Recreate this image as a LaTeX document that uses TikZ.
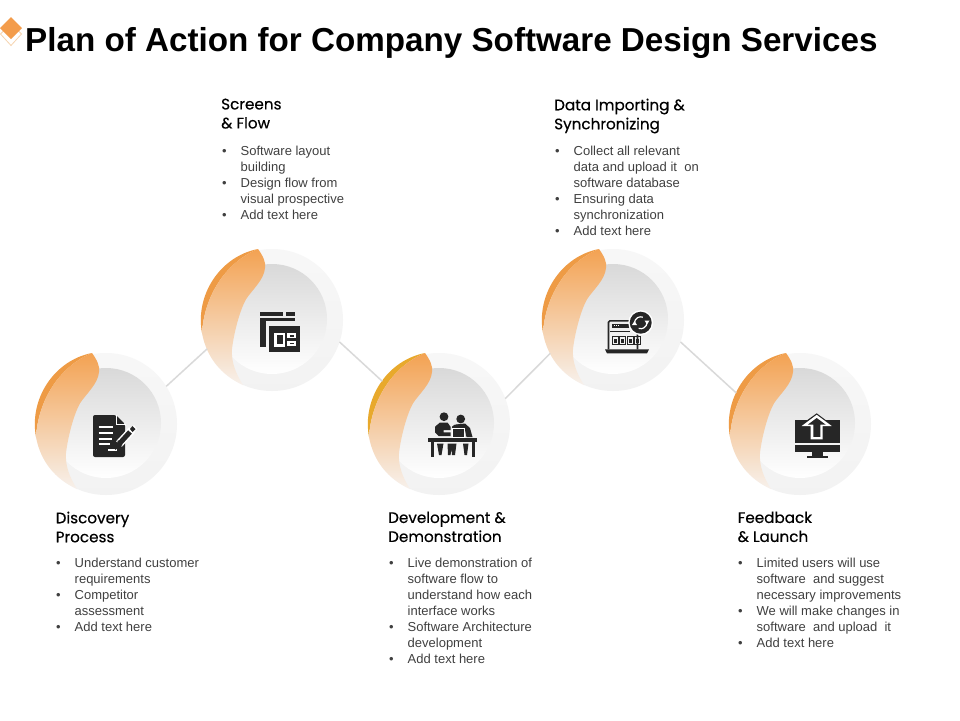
\documentclass[tikz,border=0pt]{standalone}
\usepackage{fontspec}
\setmainfont{Liberation Sans}
\newfontfamily\headfont[FakeBold=0.4]{Poppins}
\definecolor{iconDark}{HTML}{262626}
\definecolor{bodyGrey}{HTML}{404040}
\definecolor{linkGrey}{HTML}{D9D9D9}
\definecolor{swooshTop}{HTML}{F3A252}
\definecolor{swooshMid}{HTML}{FBD6B0}
\definecolor{swooshEnd}{HTML}{F7F1EC}
\definecolor{crescentA}{HTML}{EE9B45}
\definecolor{crescentB}{HTML}{E8A92C}
\definecolor{markOrange}{HTML}{F39C4B}
\definecolor{markLine}{HTML}{F6D3AE}
\newcommand{\bitem}{\makebox[18.5pt][l]{•}}
\newcommand{\bcont}{\hspace*{18.5pt}}
\tikzset{
  stepdisc/.style={circle,minimum size=142pt,inner sep=0pt,outer sep=0pt},
  linkline/.style={draw=linkGrey,line width=1.5pt},
  headtext/.style={anchor=north west,align=left,inner sep=0pt,text=black,font=\headfont\fontsize{15.2}{19}\selectfont},
  bodytext/.style={anchor=north west,align=left,inner sep=0pt,text=bodyGrey,font=\fontsize{13}{16}\selectfont},
  icon/.style={fill=iconDark,draw=none}
}
\begin{document}
\begin{tikzpicture}[x=1pt,y=-1pt]
  \useasboundingbox[fill=white] (0,0) rectangle (960,720);
  % corner mark
  \draw[markLine,line width=0.8pt] (0.5,34) -- (11,23.5) -- (21.5,34) -- (11,45.5) -- cycle;
  \fill[markOrange] (0,28) -- (11,17) -- (22,28) -- (11,39) -- cycle;
  \node[anchor=west,inner sep=0pt,font=\fontsize{33.2}{40}\selectfont\bfseries] (title) at (25,43) {Plan of Action for Company Software Design Services};
  % discs
  \foreach \n/\cx/\cy/\tone in {1/106/424/crescentA,2/272/320/crescentA,3/439/424/crescentB,4/613/320/crescentA,5/800/424/crescentA}{
    \node[stepdisc] (disc\n) at (\cx,\cy) {};
    \begin{scope}[shift={(\cx,\cy)}]
      \shade[top color=white!97!black,bottom color=white!95!black] (0,0) circle (71);
      \shade[top color=white!85!black,bottom color=white] (0,-1) circle (55);
      \fill[\tone] (-14,-71) .. controls (-52,-63.6) and (-77,-25) .. (-70,13)
        .. controls (-68,-22) and (-48,-57) .. cycle;
      \shade[top color=swooshTop,middle color=swooshMid,bottom color=swooshEnd]
        (-14,-71) .. controls (-9,-64) and (-6,-58) .. (-7,-52)
        .. controls (-8,-40) and (-20,-30) .. (-26,-20.7)
        .. controls (-32,-10) and (-38,12) .. (-40,29)
        .. controls (-41,42) and (-36,54) .. (-29,65)
        .. controls (-51.3,54.9) and (-65.5,37) .. (-70,13)
        .. controls (-68,-22) and (-48,-57) .. cycle;
    \end{scope}
  }
  \draw[linkline] (disc1.32) -- (disc2.204);
  \draw[linkline] (disc2.-18) -- (disc3.143);
  \draw[linkline] (disc3.21.5) -- (disc4.208);
  \draw[linkline] (disc4.-18) -- (disc5.154.5);
  % document icon
  \fill[icon,rounded corners=2pt] (93,415) -- (116,415) -- (125,424) -- (125,457) -- (93,457) -- cycle;
  \draw[white,line width=1pt] (116,414.5) -- (116,424.5) -- (126,424.5);
  \foreach \yy/\xe in {427/113,433/113,439/112,444/110}{
    \draw[white,line width=1.5pt] (98.5,\yy) -- (\xe,\yy);
  }
  \draw[white,line width=1.5pt] (108,450) -- (117,450);
  \draw[white,line width=8pt] (132,430) -- (119,444);
  \draw[iconDark,line width=5pt] (130,432) -- (120,443);
  \fill[white] (134,425) -- (137,429) -- (133,433) -- (130,429) -- cycle;
  \fill[iconDark] (132.5,426) -- (135.5,429) -- (132.5,432) -- (130,429) -- cycle;
  \fill[iconDark] (118,440) -- (122.5,445) -- (115,450) -- cycle;
  % windows icon
  \fill[icon] (260,312.3) rectangle (283,316.3);
  \fill[icon] (285.5,312.3) rectangle (295,316.3);
  \fill[icon] (260,318.3) rectangle (295,320.7);
  \fill[icon] (260,320.7) rectangle (266,347);
  \fill[icon] (269.3,326) rectangle (300,351.7);
  \fill[white] (274,332.7) rectangle (285,346.7);
  \fill[icon] (276.7,335) rectangle (282.7,344);
  \fill[white] (287.3,333.3) rectangle (296,338.3);
  \fill[icon] (289.5,335) rectangle (293.5,336.8);
  \fill[white] (287.3,341) rectangle (296,346);
  \fill[icon] (289.5,342.6) rectangle (293.5,344.4);
  % meeting icon
  \fill[icon] (444,416.7) circle (4.4);
  \fill[icon] (460.7,419) circle (4.4);
  \fill[icon] (435,426.7) -- (440,422.5) -- (447.5,422.5) -- (450.5,426.7) -- (450.5,430) -- (443.5,430) -- (443.5,432.3) -- (450.5,432.3) -- (450.5,436) -- (438.5,436) -- (435,432.3) -- cycle;
  \fill[icon] (456,424.5) -- (465,423.5) -- (470,428) -- (472.5,437) -- (466.5,437) -- (465,430) -- cycle;
  \fill[icon,rounded corners=0.5pt] (452,426.5) -- (455,424.5) -- (460,424.5) -- (465,427) -- (465,437) -- (452,437) -- cycle;
  \draw[white,line width=0.8pt] (452.5,428.5) rectangle (464.5,437.5);
  \fill[icon] (428.3,437.7) rectangle (476.7,442.3);
  \fill[icon] (430.7,442) rectangle (434,457);
  \fill[icon] (471.7,442) rectangle (475,457);
  \fill[icon] (437,443.5) -- (443.5,443.5) -- (441.5,455) -- (439,455) -- cycle;
  \fill[icon] (447.5,443.5) -- (456.5,443.5) -- (455,455) -- (452,455) -- (451.5,449) -- (450.5,455) -- (448,455) -- cycle;
  \fill[icon] (463,443.5) -- (468.5,443.5) -- (467,455) -- (464.5,455) -- cycle;
  % sync laptop icon
  \draw[iconDark,line width=1.6pt,rounded corners=1.5pt] (608.5,349.3) -- (608.5,320.8) -- (637.5,320.8) -- (637.5,349.3);
  \fill[icon] (605,349.3) -- (649,349.3) -- (647,353.3) -- (607,353.3) -- cycle;
  \fill[icon] (611.7,324) rectangle (631.7,327.7);
  \foreach \xx in {613.5,615.8,618.1}{
    \fill[white] (\xx,325.2) rectangle +(1.2,1.2);
  }
  \draw[iconDark,line width=1pt] (610,331.7) -- (630,331.7);
  \foreach \xx in {612.3,619.8,627.3,634.8}{
    \draw[iconDark,line width=1.1pt] (\xx,336.5) rectangle +(6,8);
    \fill[iconDark] (\xx+1.5,338.5) rectangle +(3,4);
  }
  \fill[white] (640.7,322.7) circle (12.5);
  \fill[icon] (640.7,322.7) circle (11);
  \draw[white,line width=1.2pt] (634.5,323) arc (180:290:6.2);
  \draw[white,line width=1.2pt] (647,322.5) arc (0:110:6.2);
  \fill[white] (632,325) -- (637,325) -- (634.5,321) -- cycle;
  \fill[white] (644.5,320.5) -- (649.5,320.5) -- (647,324.5) -- cycle;
  % upload icon
  \fill[icon] (816.7,413.3) -- (827,421) -- (806,421) -- cycle;
  \fill[icon] (795,420) rectangle (840,443.3);
  \fill[icon] (795,445) rectangle (840,452.3);
  \fill[icon] (811.7,452) rectangle (823.3,456);
  \fill[icon] (806.7,455.7) rectangle (828.3,457.7);
  \fill[white] (816.7,414.8) -- (831.7,426) -- (822.7,426) -- (822.7,439.3) -- (810.7,439.3) -- (810.7,426) -- (801.7,426) -- cycle;
  \fill[icon] (816.7,418) -- (825.5,424.5) -- (820.3,424.5) -- (820.3,436.8) -- (813.3,436.8) -- (813.3,424.5) -- (808,424.5) -- cycle;
  % texts
  \node[headtext] (head1) at (55.5,511.5) {Discovery\\Process};
  \node[bodytext] (body1) at (56,558) {\bitem Understand customer\\\bcont requirements\\\bitem Competitor\\\bcont assessment\\\bitem Add text here};
  \node[headtext] (head2) at (221,98.5) {Screens\\\& Flow};
  \node[bodytext] (body2) at (222,146) {\bitem Software layout\\\bcont building\\\bitem Design flow from\\\bcont visual prospective\\\bitem Add text here};
  \node[headtext] (head3) at (388,511.5) {Development \&\\Demonstration};
  \node[bodytext] (body3) at (389,558) {\bitem Live demonstration of\\\bcont software flow to\\\bcont understand how each\\\bcont interface works\\\bitem Software Architecture\\\bcont development\\\bitem Add text here};
  \node[headtext] (head4) at (554,98.5) {Data Importing \&\\Synchronizing};
  \node[bodytext] (body4) at (555,146) {\bitem Collect all relevant\\\bcont data and upload it\ \ on\\\bcont software database\\\bitem Ensuring data\\\bcont synchronization\\\bitem Add text here};
  \node[headtext] (head5) at (737.5,511.5) {Feedback\\\& Launch};
  \node[bodytext] (body5) at (738,558) {\bitem Limited users will use\\\bcont software\ \ and suggest\\\bcont necessary improvements\\\bitem We will make changes in\\\bcont software\ \ and upload\ \ it\\\bitem Add text here};
\end{tikzpicture}
\end{document}
